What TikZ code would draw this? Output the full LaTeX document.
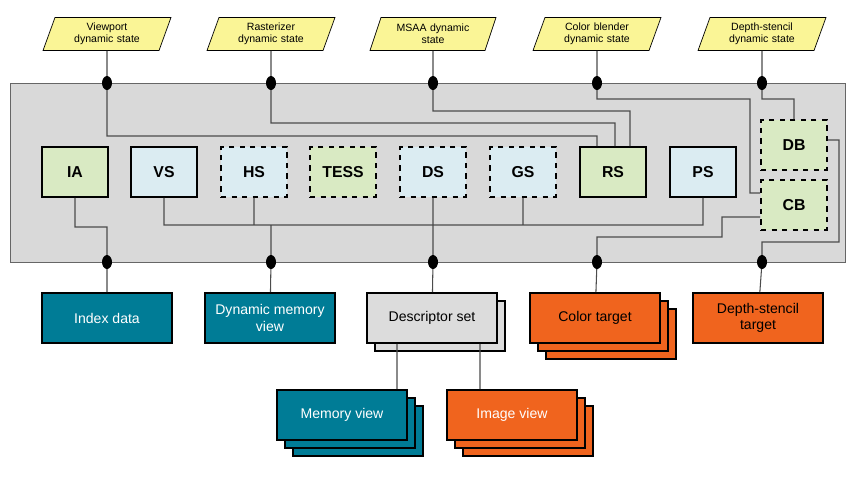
\documentclass[tikz,border=0pt]{standalone}
\usepackage{fontspec}
\setmainfont{Liberation Sans}
\usetikzlibrary{shapes.geometric}
\usetikzlibrary{positioning}
\definecolor{stgreen}{RGB}{217,234,195}
\definecolor{stblue}{RGB}{219,236,242}
\definecolor{dsyellow}{RGB}{250,245,150}
\definecolor{resteal}{RGB}{0,124,150}
\definecolor{resorange}{RGB}{240,100,30}
\definecolor{resgray}{RGB}{220,220,220}
\tikzset{wire/.style={draw=black!70,line width=0.6pt}}
\tikzset{dot/.style={ellipse,fill=black,minimum width=0.2cm,minimum height=0.28cm,inner sep=0pt}}
\tikzset{dyn/.style={trapezium,trapezium left angle=65,trapezium right angle=115,draw,fill=dsyellow,align=center,font=\fontsize{6}{7}\selectfont,text width=1.8cm,minimum height=0.66cm,inner xsep=4pt,inner ysep=1pt,trapezium stretches=true}}
\tikzset{stage/.style={draw,line width=1pt,minimum width=1.32cm,minimum height=1cm,font=\bfseries\fontsize{9}{10}\selectfont,inner sep=0pt}}
\tikzset{opt/.style={stage,dashed}}
\tikzset{res/.style={draw,line width=0.9pt,minimum width=2.6cm,minimum height=1cm,align=center,font=\fontsize{8}{9.5}\selectfont,inner sep=1pt}}
\begin{document}
\begin{tikzpicture}[x=0.02cm,y=-0.02cm]
	\useasboundingbox (0,0) rectangle (865,485);
	\node (box) [draw=black!60,fill=black!15,line width=0.8pt,minimum width=16.7cm,minimum height=3.58cm,anchor=north west] at (10,83) {};
	
	% dynamic state
	\node (vp) [dyn] at (107,34) {Viewport\\dynamic state};
	\node (rz) [dyn] at (271,34) {Rasterizer\\dynamic state};
	\node (ms) [dyn] at (433,34) {MSAA dynamic\\state};
	\node (cbl) [dyn] at (597,34) {Color blender\\dynamic state};
	\node (dst) [dyn] at (762,34) {Depth-stencil\\dynamic state};
	
	% stages
	\node (IA) [stage,fill=stgreen] at (75,172) {IA};
	\node (VS) [stage,fill=stblue] at (164,172) {VS};
	\node (HS) [opt,fill=stblue] at (254,172) {HS};
	\node (TESS) [opt,fill=stgreen] at (343,172) {TESS};
	\node (DS) [opt,fill=stblue] at (433,172) {DS};
	\node (GS) [opt,fill=stblue] at (523,172) {GS};
	\node (RS) [stage,fill=stgreen] at (613,172) {RS};
	\node (PS) [stage,fill=stblue] at (703,172) {PS};
	\node (DB) [opt,fill=stgreen] at (794,145) {DB};
	\node (CB) [opt,fill=stgreen] at (794,205) {CB};
	
	% resources
	\node (idx) [res,fill=resteal,text=white] at (107,318) {Index data};
	\node (dmv) [res,fill=resteal,text=white] at (270,318) {Dynamic memory\\view};
	\node (dss2) [res,fill=resgray] at (440,326) {};
	\node (dss) [res,fill=resgray] at (432,318) {Descriptor set};
	\node (ct3) [res,fill=resorange] at (611,334) {};
	\node (ct2) [res,fill=resorange] at (603,326) {};
	\node (ct) [res,fill=resorange] at (595,318) {Color target};
	\node (dt) [res,fill=resorange] at (758,318) {Depth-stencil\\target};
	\node (mv3) [res,fill=resteal] at (358,431) {};
	\node (mv2) [res,fill=resteal] at (350,423) {};
	\node (mv) [res,fill=resteal,text=white] at (342,415) {Memory view};
	\node (iv3) [res,fill=resorange] at (528,431) {};
	\node (iv2) [res,fill=resorange] at (520,423) {};
	\node (iv) [res,fill=resorange,text=white] at (512,415) {Image view};
	
	% dots
	\foreach \x/\n in {107/1,271/2,433/3,597/4,762/5} {
		\coordinate (t\n) at (\x,83);
		\coordinate (b\n) at (\x,262);
	}
	
	% top wiring
	\path[wire]
		(vp) -- (t1) |- (597,136) -- (RS.north -| 597,0)
		(rz) -- (t2) |- (615,123) -- (RS.north -| 615,0)
		(ms) -- (t3) |- (630,111) -- (RS.north -| 630,0)
		(cbl) -- (t4) |- (750,99) |- (CB.west |- 0,193)
		(dst) -- (t5) |- (794,99) -- (DB.north);
	
	% bottom wiring
	\path[wire]
		(IA) |- (107,227) -- (b1) -- (idx)
		(VS) |- (PS.south |- 0,225) -- (PS.south)
		(HS) -- (HS.south |- 0,225)
		(GS) -- (GS.south |- 0,225)
		(271,225) -- (b2) -- (dmv)
		(DS) -- (b3) -- (dss)
		(CB.west |- 0,217) -| (722,237) -| (b4) -- (ct)
		(DB.east |- 0,140) -| (839,242) -| (b5) -- (dt)
		(dss.south -| 397,0) -- (mv.north -| 397,0)
		(dss.south -| 480,0) -- (iv.north -| 480,0);
	
	\foreach \n in {1,...,5} {
		\node [dot] at (t\n) {};
		\node [dot] at (b\n) {};
	}
\end{tikzpicture}
\end{document}
